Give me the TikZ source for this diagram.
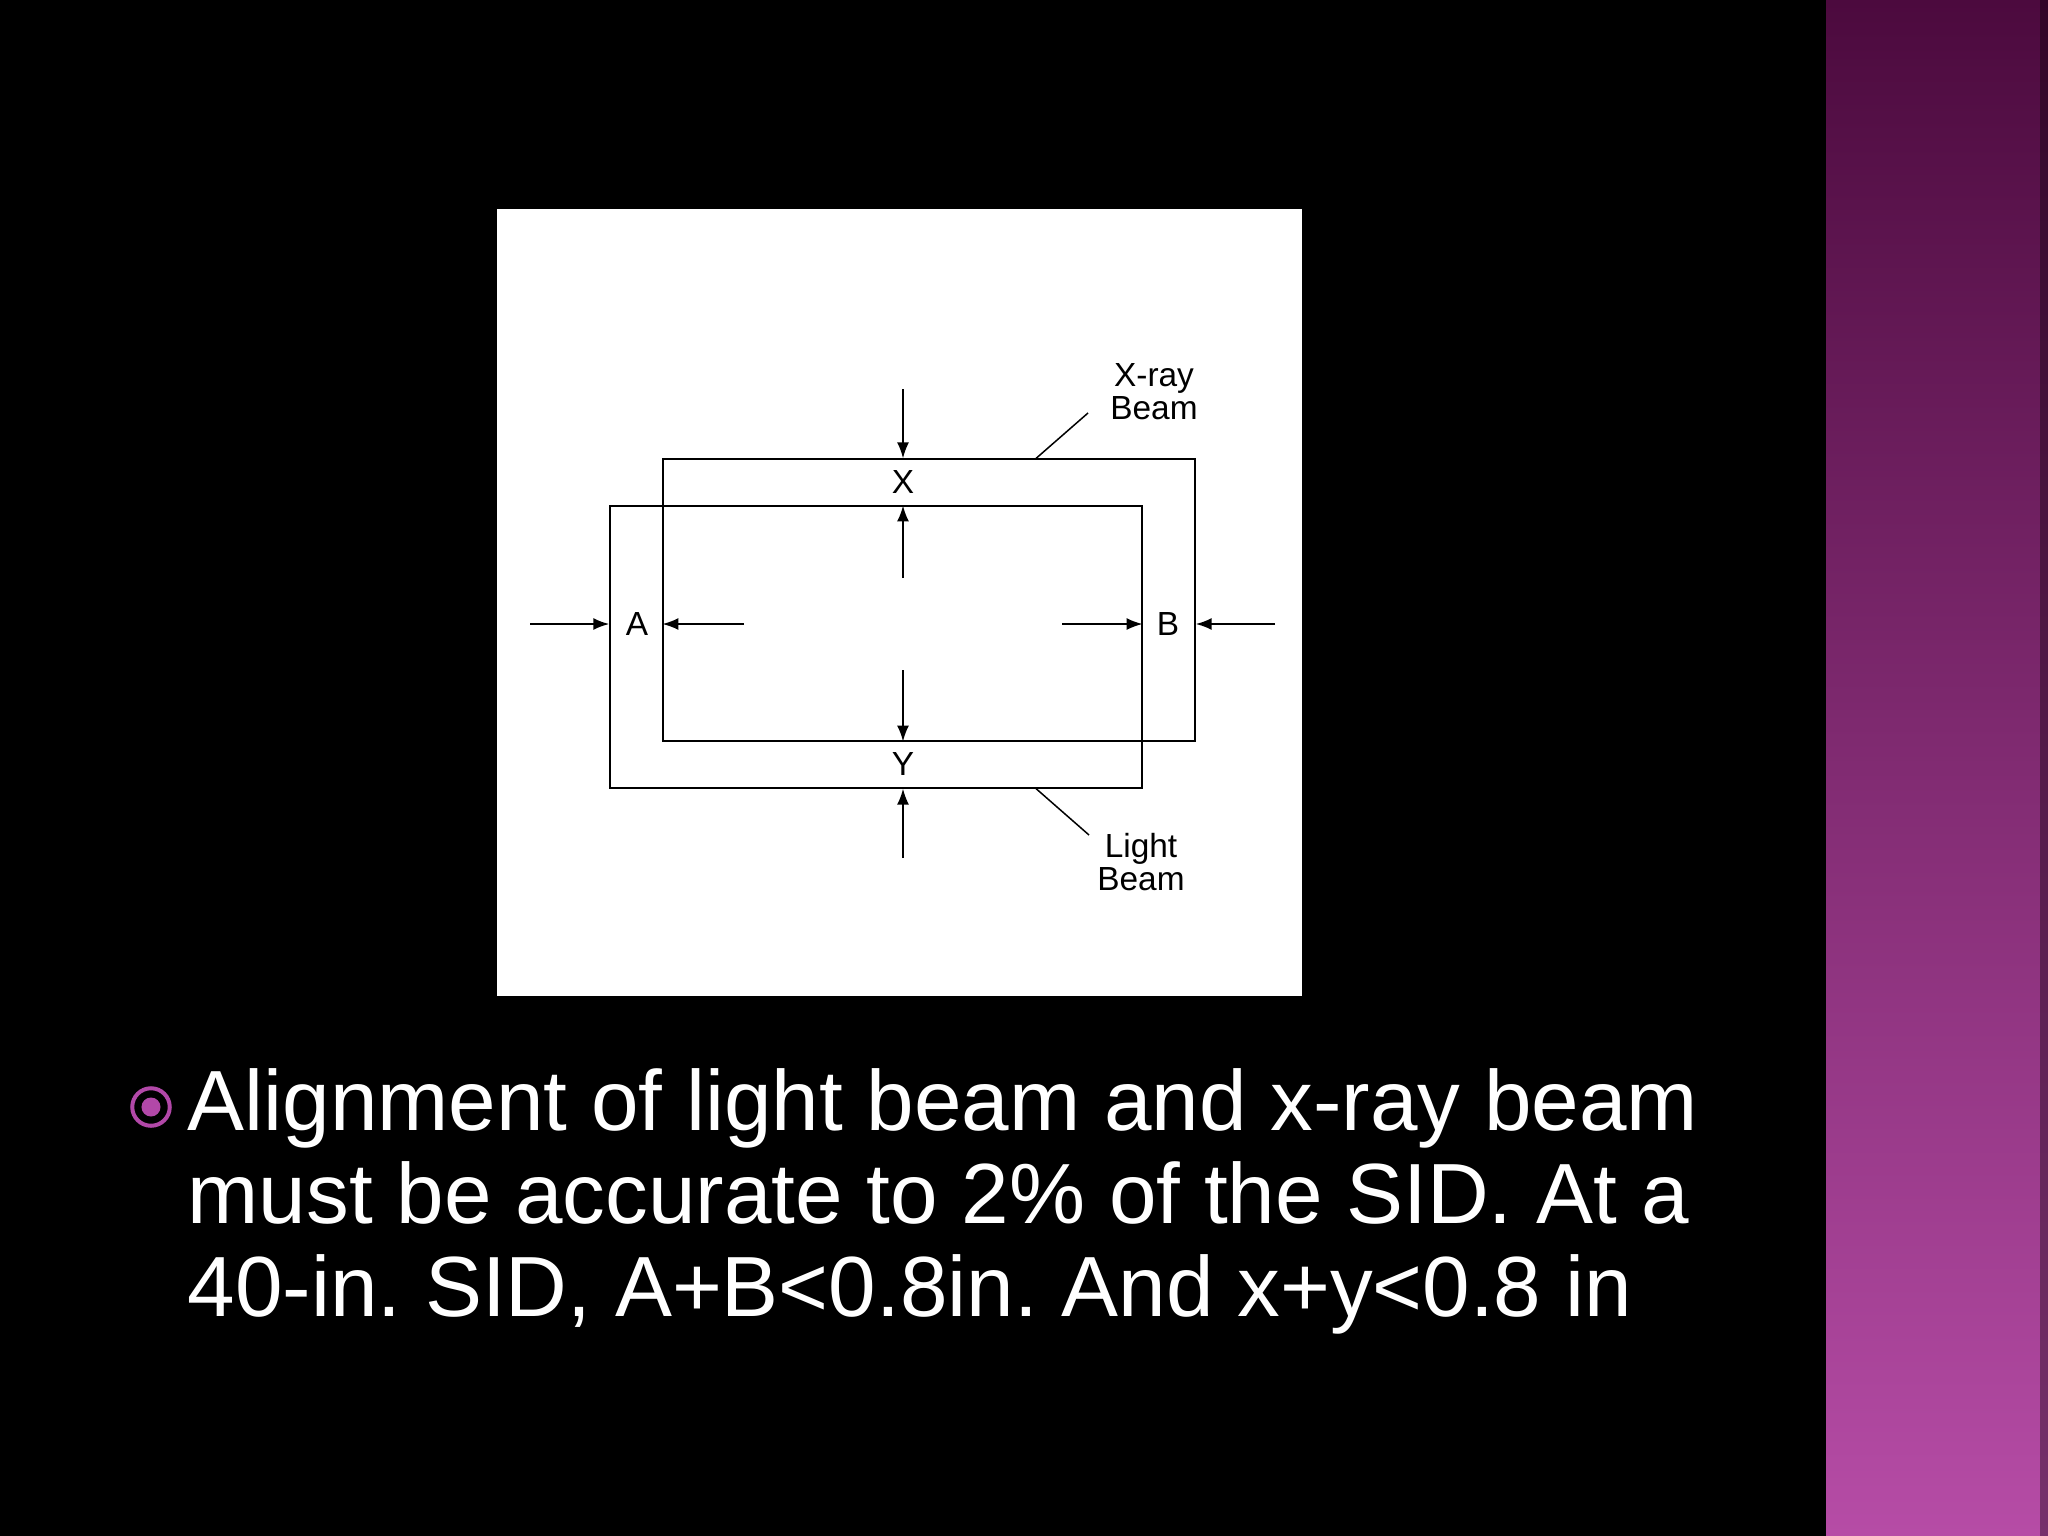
\documentclass[tikz,border=0pt]{standalone}
\usepackage{fontspec}
\setmainfont{Liberation Sans}
\usepackage{tikz}
\usetikzlibrary{calc,shapes,positioning}
\usetikzlibrary{arrows.meta}
\tikzset{>={Latex[width=1.2mm,length=1.6mm]}}
\definecolor{plum}{RGB}{178,72,168}
\definecolor{stripTop}{RGB}{76,10,62}
\definecolor{stripMid}{RGB}{138,50,118}
\definecolor{stripBot}{RGB}{182,76,166}
\frenchspacing

\begin{document}
\begin{tikzpicture}[x=0.01cm, y=-0.01cm]
          \tikzstyle{beam} = [draw, line width=0.2mm, minimum width=5.31cm, minimum height=2.81cm, inner sep=0pt]
          \tikzstyle{gap} = [inner sep=0pt, font=\fontsize{9.5}{9.5}\selectfont]
          \tikzstyle{tag} = [align=center, inner sep=0pt, font=\fontsize{9.5}{9.4}\selectfont]
          \tikzstyle{dim} = [->, line width=0.2mm]
          \tikzstyle{body} = [anchor=base west, inner sep=0pt, text=white, font=\fontsize{24.3}{26}\selectfont]

          \useasboundingbox (0,0) rectangle (2048,1536);
          \fill[black] (0,0) rectangle (2048,1536);
          \shade[top color=stripTop, middle color=stripMid, bottom color=stripBot] (1826,0) rectangle (2048,1536);
          \fill[black, opacity=0.35] (2040,0) rectangle (2048,1536);
          \fill[white] (497,209) rectangle (1302,996);

          \node[beam] (xray) at (929,600) {};
          \node[beam] (light) at (876,647) {};

          \node[gap] (x) at (903,482) {X};
          \node[gap] (y) at (903,764) {Y};
          \node[gap] (a) at (637,624) {A};
          \node[gap] (b) at (1168,624) {B};

          \coordinate (xin) at (903,389);
          \coordinate (xout) at (903,578);
          \coordinate (yin) at (903,670);
          \coordinate (yout) at (903,858);
          \coordinate (ain) at (530,624);
          \coordinate (aout) at (744,624);
          \coordinate (bin) at (1062,624);
          \coordinate (bout) at (1275,624);

          \draw[dim] (xin) -- (xin |- xray.north);
          \draw[dim] (xout) -- (xout |- light.north);
          \draw[dim] (yin) -- (yin |- xray.south);
          \draw[dim] (yout) -- (yout |- light.south);
          \draw[dim] (ain) -- (ain -| light.west);
          \draw[dim] (aout) -- (aout -| xray.west);
          \draw[dim] (bin) -- (bin -| light.east);
          \draw[dim] (bout) -- (bout -| xray.east);

          \node[tag] (xraytag) at (1154,392) {X-ray\\Beam};
          \node[tag] (lighttag) at (1141,862) {Light\\Beam};
          \coordinate (xtip) at (1088,413);
          \coordinate (ltip) at (1089,835);
          \draw[line width=0.15mm] ($(xray.north)+(107,0)$) -- (xtip);
          \draw[line width=0.15mm] ($(light.south)+(160,0)$) -- (ltip);

          \node[circle, draw=plum, line width=0.4mm, minimum size=0.375cm, inner sep=0pt] (bullet) at (151,1107) {};
          \node[circle, fill=plum, minimum size=0.19cm, inner sep=0pt] (bulletdot) at (bullet) {};

          \node[body] (line1) at (187,1130) {Alignment of light beam and x-ray beam};
          \node[body] (line2) at (187,1223) {must be accurate to 2\% of the SID. At a};
          \node[body] (line3) at (187,1316) {40-in. SID, A+B<0.8in. And x+y<0.8 in};
        \end{tikzpicture}
\end{document}
